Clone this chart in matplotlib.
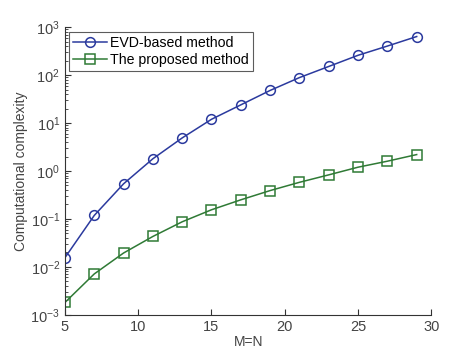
import matplotlib
matplotlib.use('Agg')

import matplotlib.pyplot as plt
from matplotlib.ticker import NullFormatter, FixedLocator

# values
mn = [5, 7, 9, 11, 13, 15, 17, 19, 21, 23, 25, 27, 29]
evd = [0.0155, 0.118, 0.54, 1.8, 4.9, 12, 24, 48, 89, 152, 260, 405, 640]
proposed = [0.0018, 0.0071, 0.0194, 0.043, 0.087, 0.155, 0.25, 0.39,
            0.58, 0.83, 1.2, 1.6, 2.2]
x_ticks = [5, 10, 15, 20, 25, 30]
y_exps = [-3, -2, -1, 0, 1, 2, 3]

plt.rcParams['font.family'] = ['Liberation Sans', 'DejaVu Sans']

fig = plt.figure(figsize=(4.74, 3.54), dpi=100)
ax = fig.add_axes([0.137, 0.111, 0.773, 0.812])

ax.semilogy(mn, evd, color='#2b3a9e', marker='o', markersize=7,
            markerfacecolor='none', markeredgewidth=1.1, linewidth=1.1,
            label='EVD-based method')
ax.semilogy(mn, proposed, color='#2f7a35', marker='s', markersize=6.5,
            markerfacecolor='none', markeredgewidth=1.1, linewidth=1.1,
            label='The proposed method')

ax.set_xlim(5, 30)
ax.set_ylim(1e-3, 1e3)
ax.set_xticks(x_ticks)

# fixed decade ticks, minor ticks 2..9 inside the range only
ax.set_yticks([10.0 ** e for e in y_exps])
ax.set_yticklabels([f'$\\mathdefault{{10^{{{e}}}}}$' for e in y_exps])
minor = [k * 10.0 ** e for e in y_exps[:-1] for k in range(2, 10)]
ax.yaxis.set_minor_locator(FixedLocator(minor))
ax.yaxis.set_minor_formatter(NullFormatter())

ax.spines['top'].set_visible(False)
ax.spines['right'].set_visible(False)
ax.spines['left'].set_color('#333333')
ax.spines['bottom'].set_color('#333333')

ax.tick_params(which='both', direction='in', colors='#333333',
               labelsize=10.5, labelcolor='#444444')
ax.tick_params(which='major', length=4)
ax.tick_params(which='minor', length=2)

ax.set_xlabel('M=N', fontsize=10, color='#444444', labelpad=1)
ax.set_ylabel('Computational complexity', fontsize=10, color='#444444',
              labelpad=2)

leg = ax.legend(loc='upper left', bbox_to_anchor=(0.0, 1.0),
                fontsize=10.2, frameon=True, fancybox=False,
                borderaxespad=0.3, handlelength=2.4, borderpad=0.3,
                labelspacing=0.2, handletextpad=0.2)
leg.get_frame().set_edgecolor('#333333')
leg.get_frame().set_linewidth(0.8)

fig.savefig('out.png', dpi=100)
